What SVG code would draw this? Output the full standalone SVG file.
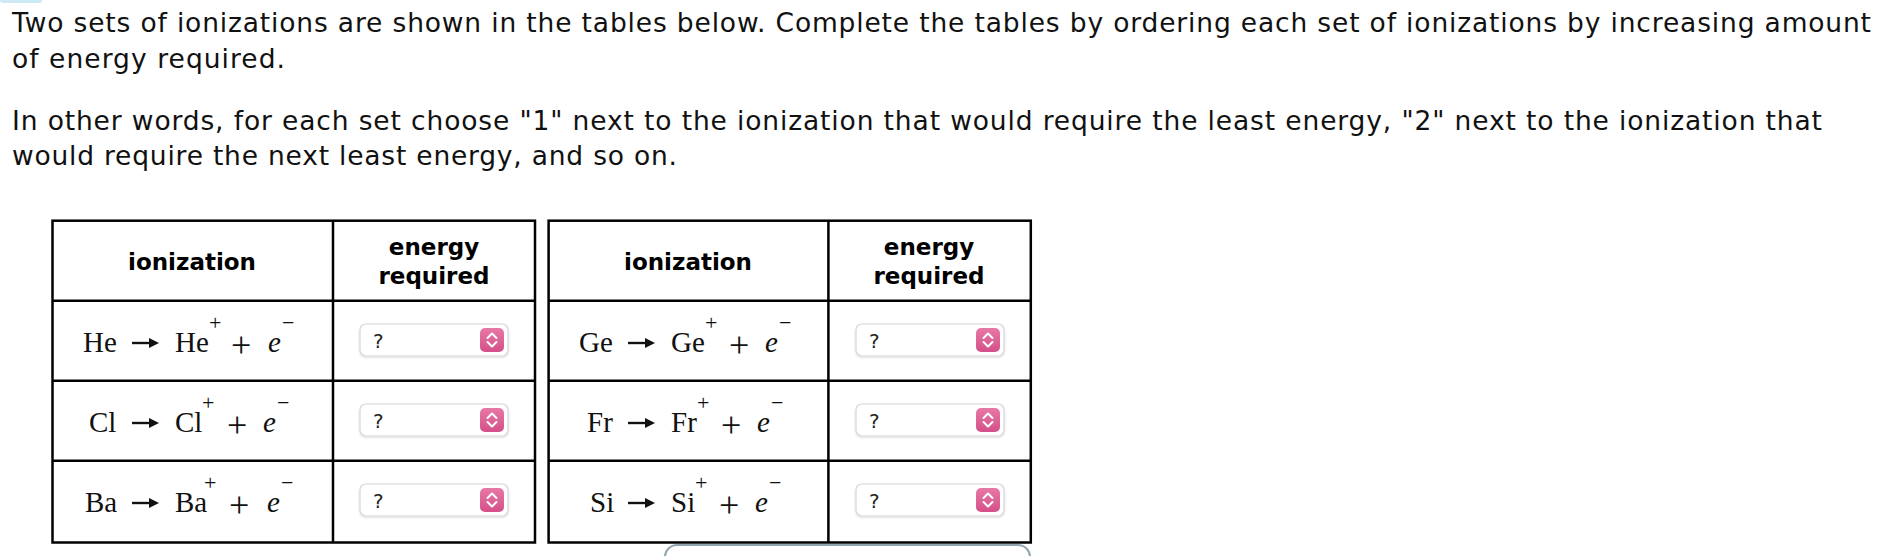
<svg xmlns="http://www.w3.org/2000/svg" width="1904" height="556" viewBox="0 0 1904 556">
<defs>
<style>
.p{font-family:"DejaVu Sans",Verdana,sans-serif;font-size:26.5px;fill:#111}
.h{font-family:"DejaVu Sans",Verdana,sans-serif;font-size:23px;font-weight:bold;fill:#000;text-anchor:middle}
.m{font-family:"Liberation Serif","Times New Roman",serif;font-size:29px;fill:#111}
.s{font-family:"Liberation Serif","Times New Roman",serif;font-size:22px;fill:#111}
.bp{font-family:"Liberation Serif","Times New Roman",serif;font-size:36px;fill:#111}
.e{font-style:italic}
.q{font-family:"DejaVu Sans",Verdana,sans-serif;font-size:20px;fill:#222}
.box{fill:#fff;stroke:#d6d6d6;stroke-width:1.2;filter:url(#sh)}
.btn{fill:url(#pg)}
.chev{fill:none;stroke:#fff;stroke-width:2;stroke-linecap:round;stroke-linejoin:round}
.tl{fill:none;stroke:#000;stroke-width:2.5}
</style>
<linearGradient id="pg" x1="0" y1="0" x2="0" y2="1"><stop offset="0" stop-color="#e879a6"/><stop offset="1" stop-color="#d4508a"/></linearGradient>
<filter id="sh" x="-10%" y="-20%" width="120%" height="150%"><feDropShadow dx="0" dy="1" stdDeviation="1" flood-color="#000" flood-opacity="0.15"/></filter>
<g id="arr"><path d="M0 0H20" stroke="#111" stroke-width="2.4"/><path d="M17 -5L27 0L17 5Z" fill="#111"/></g>
<g id="dd1"><rect class="box" x="0" y="0" width="148" height="32" rx="6"/><rect class="btn" x="120" y="4" width="24" height="24" rx="5"/><path class="chev" d="M127.5 14l4.5-4.5l4.5 4.5M127.5 18l4.5 4.5l4.5-4.5"/><text class="q" x="13" y="24">?</text></g>
</defs>
<rect x="0" y="-4" width="42" height="7" rx="3" fill="#cde9f2"/>
<g id="intro">
<text class="p" x="12" y="32" textLength="1859" lengthAdjust="spacing">Two sets of ionizations are shown in the tables below. Complete the tables by ordering each set of ionizations by increasing amount</text>
<text class="p" x="12" y="68" textLength="273" lengthAdjust="spacing">of energy required.</text>
<text class="p" x="12" y="130" textLength="1810" lengthAdjust="spacing">In other words, for each set choose "1" next to the ionization that would require the least energy, "2" next to the ionization that</text>
<text class="p" x="12" y="165" textLength="665" lengthAdjust="spacing">would require the next least energy, and so on.</text>
</g>
<g id="table1">
<rect class="tl" x="52.5" y="220.7" width="482.5" height="321.8"/>
<path class="tl" d="M333 220.7V542.5M52.5 300.7H535M52.5 380.7H535M52.5 460.7H535"/>
<text class="h" x="192" y="270">ionization</text>
<text class="h" x="434" y="255">energy</text>
<text class="h" x="434" y="284">required</text>
</g>
<g id="t1r1">
<text class="m" x="83" y="352">He</text><use href="#arr" x="132" y="343"/><text class="m" x="175" y="352">He</text><text class="s" x="209" y="330">+</text><text class="bp" x="231" y="357">+</text><text class="m e" x="268" y="352">e</text><text class="s" x="282" y="330">−</text>
<use href="#dd1" x="360" y="324"/>
</g>
<g id="t1r2">
<text class="m" x="89" y="432">Cl</text><use href="#arr" x="132" y="423"/><text class="m" x="175" y="432">Cl</text><text class="s" x="202" y="410">+</text><text class="bp" x="227" y="437">+</text><text class="m e" x="263" y="432">e</text><text class="s" x="277" y="410">−</text>
<use href="#dd1" x="360" y="404"/>
</g>
<g id="t1r3">
<text class="m" x="85" y="512">Ba</text><use href="#arr" x="132" y="503"/><text class="m" x="175" y="512">Ba</text><text class="s" x="204" y="490">+</text><text class="bp" x="229" y="517">+</text><text class="m e" x="267" y="512">e</text><text class="s" x="281" y="490">−</text>
<use href="#dd1" x="360" y="484"/>
</g>
<g id="table2">
<rect class="tl" x="548.6" y="220.7" width="482.2" height="321.8"/>
<path class="tl" d="M828.4 220.7V542.5M548.6 300.7H1030.8M548.6 380.7H1030.8M548.6 460.7H1030.8"/>
<text class="h" x="688" y="270">ionization</text>
<text class="h" x="929" y="255">energy</text>
<text class="h" x="929" y="284">required</text>
</g>
<g id="t2r1">
<text class="m" x="579" y="352">Ge</text><use href="#arr" x="628" y="343"/><text class="m" x="671" y="352">Ge</text><text class="s" x="705" y="330">+</text><text class="bp" x="729" y="357">+</text><text class="m e" x="765" y="352">e</text><text class="s" x="779" y="330">−</text>
<use href="#dd1" x="856" y="324"/>
</g>
<g id="t2r2">
<text class="m" x="587" y="432">Fr</text><use href="#arr" x="628" y="423"/><text class="m" x="671" y="432">Fr</text><text class="s" x="697" y="410">+</text><text class="bp" x="721" y="437">+</text><text class="m e" x="757" y="432">e</text><text class="s" x="771" y="410">−</text>
<use href="#dd1" x="856" y="404"/>
</g>
<g id="t2r3">
<text class="m" x="590" y="512">Si</text><use href="#arr" x="628" y="503"/><text class="m" x="671" y="512">Si</text><text class="s" x="695" y="490">+</text><text class="bp" x="719" y="517">+</text><text class="m e" x="755" y="512">e</text><text class="s" x="769" y="490">−</text>
<use href="#dd1" x="856" y="484"/>
</g>
<path d="M665 560V557a12 12 0 0 1 12-12H1018a12 12 0 0 1 12 12V560" fill="none" stroke="#8fa5b0" stroke-width="2"/>
</svg>
